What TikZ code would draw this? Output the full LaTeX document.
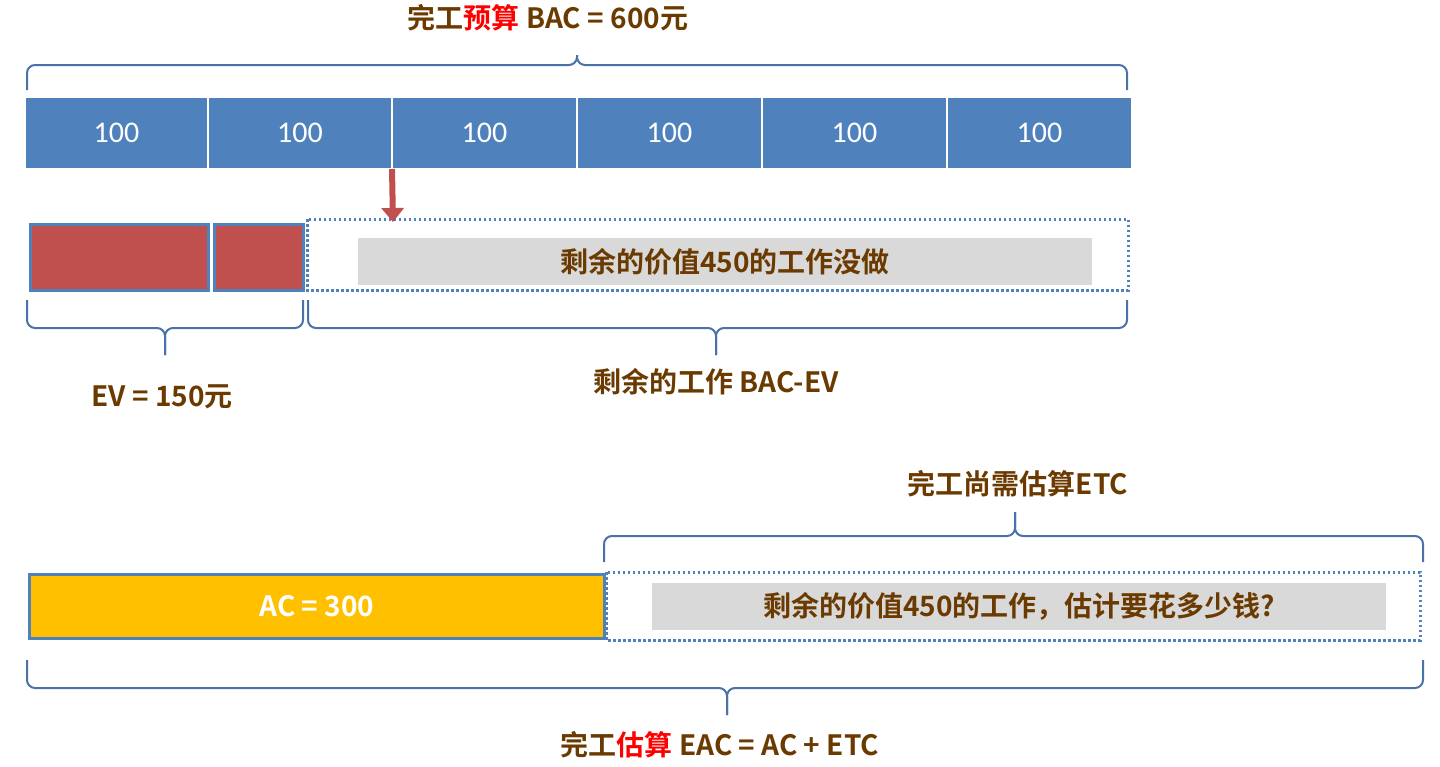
\documentclass[tikz,border=0pt]{standalone}
\usetikzlibrary{arrows.meta}
\usepackage{fontspec}
\setmainfont{Carlito}
\newfontfamily\cjk{Noto Sans CJK SC}[BoldFont={Noto Sans CJK SC Bold}]
\definecolor{bl}{HTML}{4F81BD}
\definecolor{rd}{HTML}{C0504D}
\definecolor{br}{HTML}{6B3A00}
\definecolor{gy}{HTML}{D9D9D9}
\definecolor{yl}{HTML}{FFC000}
\definecolor{brc}{HTML}{4A72A8}
\begin{document}
\begin{tikzpicture}[x=1pt,y=-1pt,
 blk/.style={draw=white,line width=1pt,fill=bl,text=white,font=\fontsize{30}{32}\selectfont},
 lbl/.style={text=br,font=\cjk\bfseries\fontsize{28}{30}\selectfont},
 dot/.style={draw=bl,line width=3pt,dash pattern=on 2.5pt off 2.5pt},
 brc/.style={draw=brc,line width=2pt,rounded corners=8pt}]
\useasboundingbox (0,0) rectangle (1440,766);
% title
\node[lbl] (t1) at (548,18) {完工{\color{red}预算} BAC = 600元};
\draw[brc] (27,90) -- (27,65) -- (577,65) -- (577,55);
\draw[brc] (577,55) -- (577,65) -- (1127,65) -- (1127,90);
% blue boxes
\foreach \a/\b [count=\i] in {25/207,208/391,392/576,577/761,762/946,947/1131}
  \node[blk,minimum width={\b-\a},minimum height=71pt,anchor=north west] (b\i) at (\a,97) {100};
% dotted block
\draw[dot] (307,219) rectangle (1128,290);
\node[fill=gy,minimum width=734pt,minimum height=47pt,anchor=north west,inner sep=0] (g1) at (358,238) {};
\node[lbl] at (g1) {剩余的价值450的工作没做};
% red boxes
\node[draw=bl,line width=3pt,fill=rd,minimum width=178pt,minimum height=66pt,anchor=north west,inner sep=0] (r1) at (29,223) {};
\node[draw=bl,line width=3pt,fill=rd,minimum width=89pt,minimum height=66pt,anchor=north west,inner sep=0] (r2) at (213,223) {};
% arrow
\coordinate (ae) at (393,222);
\draw[rd,line width=6pt,-{Triangle[length=14pt,width=22pt]}] (b3.south west) -- (ae);
% lower braces
\draw[brc] (27,300) -- (27,328) -- (165,328) -- (165,355);
\draw[brc] (165,355) -- (165,328) -- (303,328) -- (303,300);
\draw[brc] (308,300) -- (308,328) -- (716,328) -- (716,355);
\draw[brc] (716,355) -- (716,328) -- (1127,328) -- (1127,300);
\node[lbl] (ev) at (162,397) {EV = 150元};
\node[lbl] (rw) at (716,382) {剩余的工作 BAC-EV};
% ETC
\node[lbl] (etc) at (1018,484) {完工尚需估算ETC};
\draw[brc] (604,562) -- (604,536) -- (1015,536) -- (1015,512);
\draw[brc] (1015,512) -- (1015,536) -- (1423,536) -- (1423,562);
% AC row
\draw[dot] (606,572) rectangle (1420,640);
\node[fill=gy,minimum width=734pt,minimum height=47pt,anchor=north west,inner sep=0] (g2) at (652,583) {};
\node[lbl] at (g2) {剩余的价值450的工作，估计要花多少钱?};
\node[draw=bl,line width=3pt,fill=yl,minimum width=575pt,minimum height=64pt,anchor=north west,inner sep=0,text=white,font=\cjk\bfseries\fontsize{28}{30}\selectfont] (ac) at (28,573) {AC = 300};
% bottom brace
\draw[brc] (27,660) -- (27,688) -- (727,688) -- (727,715);
\draw[brc] (727,715) -- (727,688) -- (1423,688) -- (1423,660);
\node[lbl] (eac) at (720,745) {完工{\color{red}估算} EAC = AC + ETC};
\end{tikzpicture}
\end{document}
